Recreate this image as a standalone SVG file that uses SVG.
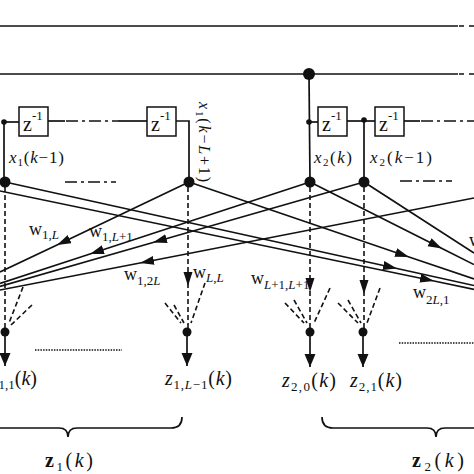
<svg xmlns="http://www.w3.org/2000/svg" width="474" height="474" viewBox="0 0 474 474">
<defs>
<style>
.ln{stroke:#111;stroke-width:1.7;fill:none}
.ds{stroke:#111;stroke-width:1.6;fill:none;stroke-dasharray:5,3}
.dd{stroke:#111;stroke-width:1.5;fill:none;stroke-dasharray:12,4,3,4}
.dt{stroke:#111;stroke-width:1.3;fill:none;stroke-dasharray:1.5,1.2}
.box{stroke:#111;stroke-width:1.5;fill:#fff}
.dot{fill:#111}
text{font-family:"Liberation Serif","Times New Roman",serif;fill:#111}
.w{font-size:18px}
.sub{font-size:13px}
.lab{font-size:20px}
.lsub{font-size:13px}
.it{font-style:italic}
</style>
<marker id="ah" markerUnits="userSpaceOnUse" markerWidth="15" markerHeight="10" refX="14" refY="4.5" orient="auto"><path d="M0,0 L14,4.5 L0,9 z" fill="#111"/></marker>
<marker id="oa" markerUnits="userSpaceOnUse" markerWidth="14" markerHeight="12" refX="13" refY="5.5" orient="auto"><path d="M0,0 L13,5.5 L0,11 z" fill="#111"/></marker>
</defs>

<g id="buses">
<line class="ln" x1="0" y1="26" x2="458" y2="26"/>
<line class="ln" x1="459" y1="26" x2="474" y2="26" stroke-dasharray="5,5"/>
<line class="ln" x1="0" y1="74" x2="458" y2="74"/>
<line class="ln" x1="459" y1="74" x2="474" y2="74" stroke-dasharray="5,5"/>
</g>

<g id="connectors">
<polyline class="ln" points="4,122 19,122"/>
<line class="ln" x1="4" y1="122" x2="4" y2="182"/>
<line class="ln" x1="48" y1="121" x2="65" y2="121"/>
<line class="dd" x1="66" y1="121" x2="118" y2="121"/>
<line class="ln" x1="118" y1="121" x2="147" y2="121"/>
<polyline class="ln" points="176,121 189,121 189,182"/>
<line class="ln" x1="309" y1="74" x2="310" y2="182"/>
<line class="ln" x1="309" y1="122" x2="318" y2="122"/>
<line class="ln" x1="347" y1="121" x2="375" y2="121"/>
<line class="ln" x1="364" y1="121" x2="364" y2="182"/>
<line class="ln" x1="404" y1="121" x2="420" y2="121"/>
<line class="dd" x1="421" y1="121" x2="474" y2="121"/>
<line class="dd" x1="65" y1="182" x2="116" y2="182"/>
<line class="dd" x1="400" y1="181" x2="452" y2="181"/>
<polyline class="ln" points="5,182 397,268.5 474,285.5" marker-mid="url(#ah)"/>
<polyline class="ln" points="0,191 434,281 474,289.3" marker-mid="url(#ah)"/>
<polyline class="ln" points="189,182 57,245 0,272" marker-mid="url(#ah)"/>
<polyline class="ln" points="189,182 409,257 474,279" marker-mid="url(#ah)"/>
<polyline class="ln" points="310,182 90,254 0,283.5" marker-mid="url(#ah)"/>
<polyline class="ln" points="310,182 442,248.5 474,264.6" marker-mid="url(#ah)"/>
<polyline class="ln" points="364,182 153,242.5 0,286.4" marker-mid="url(#ah)"/>
<line class="ln" x1="364" y1="182" x2="474" y2="253"/>
<polyline class="ln" points="474,198 140,263 0,290" marker-mid="url(#ah)"/>
<line class="ds" x1="5" y1="187" x2="5" y2="328"/>
<polyline class="ds" points="188,187 188,286 188,328" marker-mid="url(#ah)"/>
<polyline class="ds" points="310,187 310,292 310,328" marker-mid="url(#ah)"/>
<polyline class="ds" points="364,187 364,294 364,328" marker-mid="url(#ah)"/>
<line class="ds" x1="23" y1="287" x2="9" y2="323"/>
<line class="ds" x1="32" y1="305" x2="11" y2="325"/>
<line class="ds" x1="165" y1="303" x2="181" y2="323"/>
<line class="ds" x1="174" y1="305" x2="184" y2="323"/>
<line class="ds" x1="205" y1="283" x2="191" y2="323"/>
<line class="ds" x1="285" y1="303" x2="304" y2="323"/>
<line class="ds" x1="294" y1="300" x2="307" y2="323"/>
<line class="ds" x1="330" y1="288" x2="314" y2="323"/>
<line class="ds" x1="338" y1="303" x2="358" y2="323"/>
<line class="ds" x1="348" y1="300" x2="361" y2="323"/>
<line class="ds" x1="380" y1="288" x2="367" y2="323"/>
<line class="ln" x1="5" y1="332" x2="5" y2="366" marker-end="url(#oa)"/>
<line class="ln" x1="187" y1="332" x2="187" y2="366" marker-end="url(#oa)"/>
<line class="ln" x1="310" y1="332" x2="310" y2="367" marker-end="url(#oa)"/>
<line class="ln" x1="363" y1="332" x2="363" y2="367" marker-end="url(#oa)"/>
<line class="dt" x1="35" y1="350" x2="122" y2="350"/>
<line class="dt" x1="399" y1="343" x2="474" y2="343"/>
<path class="ln" d="M0,428 L59,428 Q68,428 68,437 Q68,428 77,428 L171,428 Q182,428 182,417"/>
<path class="ln" d="M322,417 Q322,428 333,428 L427,428 Q436,428 436,437 Q436,428 445,428 L474,428"/>
</g>

<g id="node-top"><circle class="dot" cx="309" cy="74" r="6"/></g>
<g id="taps">
<circle class="dot" cx="4" cy="122" r="2.8"/>
<circle class="dot" cx="309" cy="122" r="2.8"/>
<circle class="dot" cx="364" cy="120" r="2.8"/>
<circle class="dot" cx="5" cy="182" r="5.5"/>
<circle class="dot" cx="189" cy="182" r="5.5"/>
<circle class="dot" cx="310" cy="182" r="5.5"/>
<circle class="dot" cx="364" cy="182" r="5.5"/>
</g>
<g id="outputs">
<circle class="dot" cx="5" cy="332" r="4.5"/>
<circle class="dot" cx="187" cy="332" r="4.5"/>
<circle class="dot" cx="310" cy="332" r="4.5"/>
<circle class="dot" cx="363" cy="332" r="4.5"/>
</g>

<g id="delay1"><rect class="box" x="19" y="107" width="29" height="29"/><text x="23" y="131" font-size="20">z<tspan font-size="13" dy="-11">-1</tspan></text></g>
<g id="delay2"><rect class="box" x="147" y="107" width="29" height="29"/><text x="151" y="131" font-size="20">z<tspan font-size="13" dy="-11">-1</tspan></text></g>
<g id="delay3"><rect class="box" x="318" y="107" width="29" height="29"/><text x="322" y="131" font-size="20">z<tspan font-size="13" dy="-11">-1</tspan></text></g>
<g id="delay4"><rect class="box" x="375" y="107" width="29" height="29"/><text x="379" y="131" font-size="20">z<tspan font-size="13" dy="-11">-1</tspan></text></g>

<g id="tap-labels">
<text x="9" y="163" font-size="17" textLength="55"><tspan class="it">x</tspan><tspan font-size="11" dy="3">1</tspan><tspan dy="-3">(</tspan><tspan class="it">k</tspan>−1)</text>
<text x="314" y="163" font-size="17" textLength="38"><tspan class="it">x</tspan><tspan font-size="11" dy="3">2</tspan><tspan dy="-3">(</tspan><tspan class="it">k</tspan>)</text>
<text x="370" y="163" font-size="17" textLength="62"><tspan class="it">x</tspan><tspan font-size="11" dy="3">2</tspan><tspan dy="-3">(</tspan><tspan class="it">k</tspan>−1)</text>
<text transform="translate(199,102) rotate(90)" font-size="16" textLength="80"><tspan class="it">x</tspan><tspan font-size="11" dy="3">1</tspan><tspan dy="-3">(</tspan><tspan class="it">k</tspan>−<tspan class="it">L</tspan>+1)</text>
</g>

<g id="weight-labels">
<text class="w" x="29" y="235">w<tspan class="sub" dy="4">1,<tspan class="it">L</tspan></tspan></text>
<text class="w" x="89" y="237">w<tspan class="sub" dy="4">1,<tspan class="it">L</tspan>+1</tspan></text>
<text class="w" x="124" y="280">w<tspan class="sub" dy="5">1,2<tspan class="it">L</tspan></tspan></text>
<text class="w" x="193" y="278">w<tspan class="sub" dy="4"><tspan class="it">L</tspan>,<tspan class="it">L</tspan></tspan></text>
<text class="w" x="251" y="284">w<tspan class="sub" dy="5"><tspan class="it">L</tspan>+1,<tspan class="it">L</tspan>+1</tspan></text>
<text class="w" x="413" y="298">w<tspan class="sub" dy="6">2<tspan class="it">L</tspan>,1</tspan></text>
<text class="w" x="469" y="246">w</text>
</g>

<g id="output-labels">
<text class="lab" x="37" y="385" text-anchor="end"><tspan class="it">z</tspan><tspan class="lsub" dy="4">1,1</tspan><tspan dy="-4">(</tspan><tspan class="it">k</tspan>)</text>
<text class="lab" x="165" y="385" textLength="67"><tspan class="it">z</tspan><tspan class="lsub" dy="4">1,<tspan class="it">L</tspan>−1</tspan><tspan dy="-4">(</tspan><tspan class="it">k</tspan>)</text>
<text class="lab" x="282" y="387" textLength="54"><tspan class="it">z</tspan><tspan class="lsub" dy="4">2,0</tspan><tspan dy="-4">(</tspan><tspan class="it">k</tspan>)</text>
<text class="lab" x="350" y="387" textLength="52"><tspan class="it">z</tspan><tspan class="lsub" dy="4">2,1</tspan><tspan dy="-4">(</tspan><tspan class="it">k</tspan>)</text>
<text class="lab" x="45" y="467" textLength="48"><tspan font-weight="bold">z</tspan><tspan class="lsub" dy="4">1</tspan><tspan dy="-4">(</tspan><tspan class="it">k</tspan>)</text>
<text class="lab" x="412" y="467" textLength="52"><tspan font-weight="bold">z</tspan><tspan class="lsub" dy="4">2</tspan><tspan dy="-4">(</tspan><tspan class="it">k</tspan>)</text>
</g>
</svg>
